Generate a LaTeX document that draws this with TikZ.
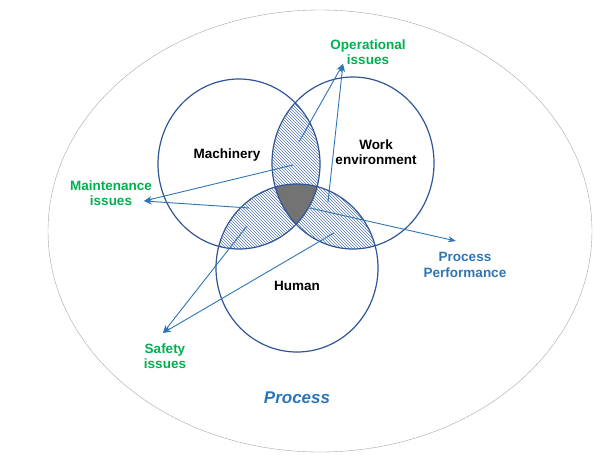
\documentclass[tikz,border=0pt]{standalone}
\usepackage{fontspec}
\setmainfont{Liberation Sans}
\usetikzlibrary{patterns,arrows.meta}
\definecolor{cgreen}{RGB}{0,176,80}
\definecolor{cblue}{RGB}{46,117,182}
\definecolor{cdark}{RGB}{47,85,151}
\begin{document}
\begin{tikzpicture}[x=1pt,y=-1pt,
  lbl/.style={font=\fontsize{13.5}{15.5}\selectfont\bfseries,align=center},
  arr/.style={draw=cblue,line width=0.9pt,-{Stealth[length=8pt,width=6pt]}},
  hatch/.style={pattern=north west lines,pattern color=cdark!80}]
\useasboundingbox (0,0) rectangle (600,460);
\draw[gray!70] (320,231) ellipse [x radius=272pt, y radius=221pt];
\def\A{(239,164) ellipse [x radius=81pt, y radius=85pt]}
\def\B{(353,163) ellipse [x radius=81pt, y radius=86pt]}
\def\C{(297,268) ellipse [x radius=81pt, y radius=84pt]}
\begin{scope}\clip \A; \fill[hatch] \B; \end{scope}
\begin{scope}\clip \A; \fill[hatch] \C; \end{scope}
\begin{scope}\clip \B; \fill[hatch] \C; \end{scope}
\begin{scope}\clip \A; \clip \B; \fill[gray!90!black] \C; \end{scope}
\draw[cdark,line width=1.2pt] \A; \draw[cdark,line width=1.2pt] \B; \draw[cdark,line width=1.2pt] \C;
\node[lbl] (mach) at (227,155) {Machinery};
\node[lbl] (work) at (376,152) {Work\\environment};
\node[lbl] (hum) at (297,286) {Human};
\node[lbl,text=cgreen] (op) at (368,52) {Operational\\issues};
\node[lbl,text=cgreen] (mt) at (111,193) {Maintenance\\issues};
\node[lbl,text=cgreen] (sf) at (165,356) {Safety\\issues};
\node[lbl,text=cblue] (pp) at (465,265) {Process\\Performance};
\node[font=\fontsize{17}{19}\selectfont\bfseries\itshape,text=cblue] (pr) at (297,398) {Process};
\coordinate (opT) at (343,64);
\coordinate (mtT) at (144,201);
\coordinate (sfT) at (163,333);
\coordinate (ppT) at (456,241);
\coordinate (l1) at (299,142); \coordinate (l2) at (328,202);
\coordinate (l3) at (293,165); \coordinate (l4) at (249,208);
\coordinate (l5) at (247,226); \coordinate (l6) at (334,233);
\coordinate (l7) at (310,208);
\draw[arr] (l1) -- (opT); \draw[arr] (l2) -- (opT);
\draw[arr] (l3) -- (mtT); \draw[arr] (l4) -- (mtT);
\draw[arr] (l5) -- (sfT); \draw[arr] (l6) -- (sfT);
\draw[arr] (l7) -- (ppT);
\end{tikzpicture}
\end{document}
